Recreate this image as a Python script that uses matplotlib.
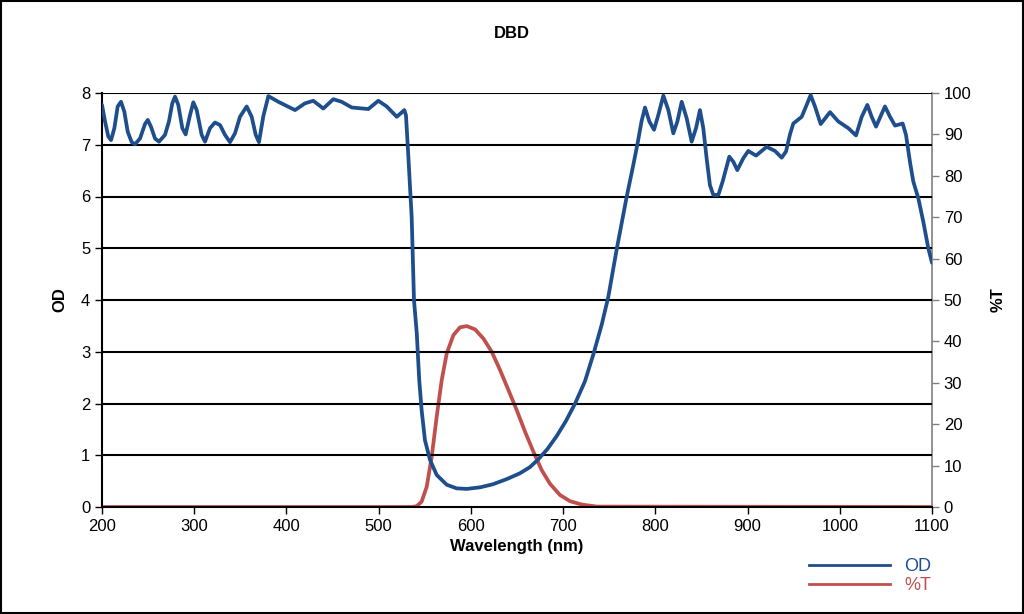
import matplotlib
matplotlib.use("Agg")
import matplotlib.pyplot as plt
from matplotlib.lines import Line2D

plt.rcParams['font.family'] = ['Liberation Sans', 'DejaVu Sans']

od_wl = [200, 203.3, 206.8, 209.8, 213.4, 217, 220.6, 224.2, 227.9, 232.2, 235.8, 241.2,
         246.6, 249.6, 253.1, 257.5, 261.8, 268.3, 272.6, 276.2, 279.2, 282.7, 287.1,
         290.7, 295.4, 299, 302.7, 308.1, 311.7, 317.1, 322.5, 328, 333.4, 338.8, 344.2,
         349.6, 356.9, 362.3, 366.7, 370.2, 374.9, 380.4, 391.2, 409.3, 420.1, 429.1,
         440, 450.8, 459.9, 470.8, 488.8, 499.6, 508.7, 519.6, 527.8, 529.6, 532.1,
         535.8, 538.3, 541.3, 544, 546.6, 550.2, 555.7, 562.9, 573.8, 584.6, 595.5,
         610, 624, 639, 653, 664, 673, 683, 693, 703, 713, 723.7, 732.8, 741.8, 749,
         758, 769, 776, 781, 785, 788.8, 793.5, 798.6, 803.3, 808.7, 814.1, 819.5,
         823.9, 828.6, 834, 839.4, 844.1, 848.4, 852, 855.6, 859.2, 862.9, 868.3, 873,
         880.2, 884.6, 888.9, 895.4, 900.8, 909.2, 915.3, 920.7, 929.8, 937, 941.7,
         946, 949.6, 958.7, 964.1, 968.4, 973.1, 979.3, 989.4, 998.4, 1009.3, 1017.6,
         1023.8, 1029.9, 1034.6, 1039.3, 1049, 1054.5, 1059.9, 1068.2, 1071.8, 1076.1,
         1079.7, 1085.1, 1090.6, 1096, 1100]
od_val = [7.77, 7.45, 7.16, 7.09, 7.32, 7.74, 7.83, 7.64, 7.25, 7.05, 7.01, 7.12,
          7.40, 7.48, 7.35, 7.12, 7.06, 7.19, 7.45, 7.80, 7.93, 7.77, 7.32,
          7.20, 7.57, 7.82, 7.67, 7.19, 7.06, 7.32, 7.43, 7.38, 7.19, 7.05, 7.22,
          7.54, 7.74, 7.54, 7.19, 7.05, 7.55, 7.94, 7.83, 7.67, 7.80, 7.85,
          7.70, 7.88, 7.83, 7.72, 7.69, 7.85, 7.74, 7.54, 7.67, 7.57, 6.80,
          5.60, 4.00, 3.36, 2.45, 1.87, 1.29, 0.91, 0.62, 0.43, 0.36, 0.35,
          0.38, 0.44, 0.54, 0.65, 0.77, 0.92, 1.12, 1.37, 1.66, 2.00, 2.43, 2.95, 3.52, 4.06,
          4.97, 6.00, 6.60, 7.05, 7.45, 7.72, 7.45, 7.29, 7.58, 7.95, 7.67, 7.22,
          7.45, 7.83, 7.51, 7.06, 7.32, 7.67, 7.32, 6.74, 6.22, 6.03, 6.03, 6.29,
          6.77, 6.67, 6.51, 6.74, 6.88, 6.79, 6.88, 6.96, 6.88, 6.75, 6.87,
          7.20, 7.41, 7.54, 7.77, 7.96, 7.74, 7.40, 7.63, 7.45, 7.32, 7.18,
          7.54, 7.77, 7.54, 7.35, 7.74, 7.54, 7.37, 7.41, 7.19, 6.67,
          6.29, 5.97, 5.51, 5.00, 4.72]

t_wl = [200, 536, 541.3, 546.6, 552.1, 557.5, 562.9, 568.4, 573.8, 581, 588.2, 595.5,
        604.5, 613.5, 622.6, 631.6, 640.6, 649.7, 658.7, 667.7, 676.8, 685.8, 696.6,
        707.5, 720.2, 736.4, 1100]
t_val = [0, 0, 0.2, 1.3, 4.9, 12.1, 21.8, 30.7, 37.1, 41.5, 43.4, 43.7,
         42.9, 40.7, 37.5, 33.1, 28.3, 23.4, 18.2, 13.4, 8.9, 5.6, 2.9,
         1.4, 0.6, 0.1, 0]

od_ticks = list(range(0, 9))
t_ticks = list(range(0, 101, 10))
x_ticks = list(range(200, 1101, 100))

blue = '#1F4E8C'
red = '#C0504D'

fig = plt.figure(figsize=(10.24, 6.14), dpi=100)
ax = fig.add_axes([102/1024, 1-507/614, 830/1024, 414/614])
ax2 = ax.twinx()

for y in od_ticks[1:]:
    ax.axhline(y, color='black', lw=1.5, zorder=1)

ax.plot(od_wl, od_val, color=blue, lw=2.7, zorder=3, solid_joinstyle='round',
        solid_capstyle='round')
ax2.plot(t_wl, t_val, color=red, lw=2.7, zorder=3, solid_joinstyle='round')

ax.set_xlim(200, 1100)
ax.set_ylim(0, 8)
ax2.set_ylim(0, 100)
ax.set_xticks(x_ticks)
ax.set_yticks(od_ticks)
ax2.set_yticks(t_ticks)

ax.tick_params(axis='both', labelsize=12, direction='out', length=5, width=1, colors='black')
ax2.tick_params(axis='y', labelsize=12, direction='out', length=5, width=1,
                color='#808080', labelcolor='black')

for a in (ax, ax2):
    a.spines['top'].set_visible(False)
ax.spines['left'].set_linewidth(1.5)
ax.spines['bottom'].set_linewidth(1.5)
ax.spines['right'].set_visible(False)
ax2.spines['left'].set_visible(False)
ax2.spines['bottom'].set_visible(False)
ax2.spines['right'].set_color('#808080')
ax2.spines['right'].set_linewidth(1.2)

ax.set_xlabel('Wavelength (nm)', fontsize=12, fontweight='bold', labelpad=4)
ax.set_ylabel('OD', fontsize=12, fontweight='bold', labelpad=10)
ax2.set_ylabel('%T', fontsize=12, fontweight='bold', labelpad=14)
ax.set_zorder(ax2.get_zorder() + 1)
ax.patch.set_visible(False)

fig.text(512/1024, 1-33/614, 'DBD', ha='center', va='center', fontsize=12, fontweight='bold')

handles = [Line2D([], [], color=blue, lw=2), Line2D([], [], color=red, lw=2)]
leg = fig.legend(handles, ['OD', '%T'], loc='center', bbox_to_anchor=(870/1024, 1-576/614),
                 frameon=False, fontsize=13, handlelength=4.5, handletextpad=0.8,
                 labelspacing=0.1)
for txt, c in zip(leg.get_texts(), [blue, red]):
    txt.set_color(c)

fig.patches.append(plt.Rectangle((0.001, 0.001), 0.998, 0.997, transform=fig.transFigure,
                                 fill=False, edgecolor='black', lw=1.5))

fig.savefig('out.png', dpi=100)
